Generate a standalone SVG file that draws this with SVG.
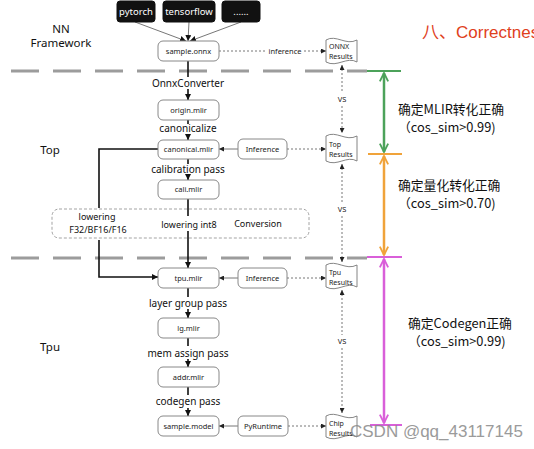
<svg xmlns="http://www.w3.org/2000/svg" width="534" height="449" viewBox="0 0 534 449">
<defs>
<style>
.node rect{fill:#fff;stroke:#888;stroke-width:1}
.node text{font-family:"Noto Sans","Open Sans",sans-serif;font-size:7.5px;fill:#222;text-anchor:middle}
.src rect{fill:#111;stroke:#111}
.src text{font-family:"Noto Sans","Open Sans",sans-serif;font-size:9.5px;fill:#fff;text-anchor:middle}
.res path{fill:#fff;stroke:#777;stroke-width:0.9}
.res text{font-family:"Noto Sans","Open Sans",sans-serif;font-size:7px;fill:#222}
.lbl{font-family:"Noto Sans","Open Sans",sans-serif;font-size:10px;fill:#111;text-anchor:middle}
.sm{font-family:"Noto Sans","Open Sans",sans-serif;font-size:7.5px;fill:#222;text-anchor:middle}
.sec{font-family:"Noto Sans","Open Sans",sans-serif;font-size:11.5px;fill:#111;text-anchor:middle}
.main{stroke:#111;stroke-width:1.6;fill:none}
.gray{stroke:#777;stroke-width:1;fill:none}
.dot{stroke:#777;stroke-width:1;stroke-dasharray:2 2;fill:none}
.sep{stroke:#9c9c9c;stroke-width:3;stroke-dasharray:28 14;fill:none}
.cn{font-family:"Noto Sans CJK SC","Noto Sans",sans-serif;font-size:12.8px;fill:#111}
</style>
<marker id="ab" viewBox="0 0 10 10" refX="10" refY="5" markerWidth="6" markerHeight="6" markerUnits="userSpaceOnUse" orient="auto"><path d="M0,0 L10,5 L0,10 Z" fill="#111"/></marker>
<marker id="ag" viewBox="0 0 10 10" refX="10" refY="5" markerWidth="5" markerHeight="5" markerUnits="userSpaceOnUse" orient="auto-start-reverse"><path d="M0,0 L10,5 L0,10 Z" fill="#222"/></marker>
<marker id="agr" viewBox="0 0 12 12" refX="11" refY="6" markerWidth="10" markerHeight="10" markerUnits="userSpaceOnUse" orient="auto-start-reverse"><path d="M1,1 L11,6 L1,11" fill="none" stroke="#4ca25a" stroke-width="2.2"/></marker>
<marker id="aor" viewBox="0 0 12 12" refX="11" refY="6" markerWidth="10" markerHeight="10" markerUnits="userSpaceOnUse" orient="auto-start-reverse"><path d="M1,1 L11,6 L1,11" fill="none" stroke="#f0a33a" stroke-width="2.2"/></marker>
<marker id="api" viewBox="0 0 12 12" refX="11" refY="6" markerWidth="10" markerHeight="10" markerUnits="userSpaceOnUse" orient="auto-start-reverse"><path d="M1,1 L11,6 L1,11" fill="none" stroke="#d95fd9" stroke-width="2.2"/></marker>
</defs>
<rect width="534" height="449" fill="#fff"/>

<!-- separators -->
<line class="sep" x1="11" y1="71" x2="367" y2="71"/>
<line class="sep" x1="11" y1="258" x2="367" y2="258"/>

<!-- section labels -->
<text class="sec" x="61" y="33">NN</text>
<text class="sec" x="61" y="47">Framework</text>
<text class="sec" x="50" y="154">Top</text>
<text class="sec" x="50" y="351">Tpu</text>

<!-- conversion box -->
<rect x="52" y="209" width="257" height="29" rx="7" fill="none" stroke="#999" stroke-width="0.9" stroke-dasharray="3 2"/>

<g id="connectors">
<line class="gray" x1="135" y1="22" x2="186" y2="41" marker-end="url(#ab)"/>
<line class="gray" x1="189" y1="22" x2="188" y2="41" marker-end="url(#ab)"/>
<line class="gray" x1="241" y1="22" x2="190" y2="41" marker-end="url(#ab)"/>

<line class="main" x1="188" y1="61" x2="188" y2="77"/>
<line class="main" x1="188" y1="89" x2="188" y2="100" marker-end="url(#ab)"/>
<text class="lbl" x="188" y="87">OnnxConverter</text>

<line class="main" x1="188" y1="120" x2="188" y2="124"/>
<line class="main" x1="188" y1="134" x2="188" y2="140" marker-end="url(#ab)"/>
<text class="lbl" x="188" y="132">canonicalize</text>

<line class="main" x1="188" y1="159" x2="188" y2="164"/>
<line class="main" x1="188" y1="175" x2="188" y2="180" marker-end="url(#ab)"/>
<text class="lbl" x="188" y="173">calibration pass</text>

<line class="main" x1="188" y1="199" x2="188" y2="216"/>
<line class="main" x1="188" y1="231" x2="188" y2="268" marker-end="url(#ab)"/>
<text class="lbl" x="189" y="228" style="font-size:9px">lowering int8</text>

<polyline class="main" points="158,149 99,149 99,208"/>
<polyline class="main" points="99,240 99,277 158,277" marker-end="url(#ab)"/>
<text class="lbl" x="97" y="220" style="font-size:9px">lowering</text>
<text class="lbl" x="98" y="233" style="font-size:9px">F32/BF16/F16</text>
<text class="lbl" x="258" y="227" style="font-size:9px">Conversion</text>

<line class="main" x1="188" y1="288" x2="188" y2="297"/>
<line class="main" x1="188" y1="309" x2="188" y2="318" marker-end="url(#ab)"/>
<text class="lbl" x="188" y="307">layer group pass</text>

<line class="main" x1="188" y1="338" x2="188" y2="346"/>
<line class="main" x1="188" y1="359" x2="188" y2="367" marker-end="url(#ab)"/>
<text class="lbl" x="188" y="357">mem  assign pass</text>

<line class="main" x1="188" y1="387" x2="188" y2="395"/>
<line class="main" x1="188" y1="408" x2="188" y2="416" marker-end="url(#ab)"/>
<text class="lbl" x="188" y="405">codegen pass</text>

<!-- inference links -->
<line class="dot" x1="219" y1="51" x2="266" y2="51"/>
<line class="dot" x1="304" y1="51" x2="326" y2="51" marker-end="url(#ag)"/>
<text class="sm" x="285" y="54">inference</text>

<line class="gray" x1="238" y1="149" x2="219" y2="149" marker-end="url(#ag)"/>
<line class="dot" x1="287" y1="149" x2="326" y2="149" marker-end="url(#ag)"/>
<line class="gray" x1="238" y1="278" x2="219" y2="278" marker-end="url(#ag)"/>
<line class="dot" x1="287" y1="278" x2="326" y2="278" marker-end="url(#ag)"/>
<line class="gray" x1="238" y1="426" x2="219" y2="426" marker-end="url(#ag)"/>
<line class="dot" x1="288" y1="426" x2="326" y2="426" marker-end="url(#ag)"/>

<!-- vs -->
<line class="dot" x1="342" y1="65" x2="342" y2="92" marker-start="url(#ag)"/>
<line class="dot" x1="342" y1="106" x2="342" y2="133" marker-end="url(#ag)"/>
<text class="sm" x="342" y="102">VS</text>
<line class="dot" x1="342" y1="164" x2="342" y2="203" marker-start="url(#ag)"/>
<line class="dot" x1="342" y1="216" x2="342" y2="262" marker-end="url(#ag)"/>
<text class="sm" x="342" y="212">VS</text>
<line class="dot" x1="342" y1="290" x2="342" y2="335" marker-start="url(#ag)"/>
<line class="dot" x1="342" y1="348" x2="342" y2="413" marker-end="url(#ag)"/>
<text class="sm" x="342" y="344">VS</text>

<!-- colored ranges -->
<line x1="367" y1="71" x2="401" y2="71" stroke="#4ca25a" stroke-width="2"/>
<line x1="384" y1="73" x2="384" y2="152" stroke="#4ca25a" stroke-width="2.5" marker-start="url(#agr)" marker-end="url(#agr)"/>
<line x1="368" y1="154" x2="402" y2="154" stroke="#f0a33a" stroke-width="2"/>
<line x1="384" y1="156" x2="384" y2="255" stroke="#f0a33a" stroke-width="2.5" marker-start="url(#aor)" marker-end="url(#aor)"/>
<line x1="367" y1="257" x2="402" y2="257" stroke="#d95fd9" stroke-width="2"/>
<line x1="384" y1="259" x2="384" y2="423" stroke="#d95fd9" stroke-width="2.5" marker-start="url(#api)" marker-end="url(#api)"/>
<line x1="370" y1="425" x2="402" y2="425" stroke="#d95fd9" stroke-width="2"/>
</g>

<!-- source frameworks -->
<g id="pytorch" class="src"><rect x="117" y="1" width="38" height="21" rx="3"/><text x="136" y="15">pytorch</text></g>
<g id="tensorflow" class="src"><rect x="163" y="1" width="52" height="21" rx="3"/><text x="189" y="15">tensorflow</text></g>
<g id="others" class="src"><rect x="222" y="1" width="38" height="21" rx="3"/><text x="241" y="15">......</text></g>

<!-- main nodes -->
<g id="sample_onnx" class="node"><rect x="158" y="41" width="61" height="20" rx="5"/><text x="188.5" y="54">sample.onnx</text></g>
<g id="origin_mlir" class="node"><rect x="158" y="100" width="61" height="20" rx="5"/><text x="188.5" y="113">origin.mlir</text></g>
<g id="canonical_mlir" class="node"><rect x="158" y="140" width="61" height="19" rx="5"/><text x="188.5" y="152">canonical.mlir</text></g>
<g id="cali_mlir" class="node"><rect x="158" y="180" width="61" height="19" rx="5"/><text x="188.5" y="192">cali.mlir</text></g>
<g id="tpu_mlir" class="node"><rect x="158" y="268" width="61" height="20" rx="5"/><text x="188.5" y="281">tpu.mlir</text></g>
<g id="lg_mlir" class="node"><rect x="158" y="318" width="61" height="20" rx="5"/><text x="188.5" y="331">lg.mlir</text></g>
<g id="addr_mlir" class="node"><rect x="158" y="367" width="61" height="20" rx="5"/><text x="188.5" y="380">addr.mlir</text></g>
<g id="sample_model" class="node"><rect x="158" y="416" width="61" height="20" rx="5"/><text x="188.5" y="429">sample.model</text></g>

<g id="inference_top" class="node"><rect x="238" y="139" width="49" height="20" rx="5"/><text x="262.5" y="152">Inference</text></g>
<g id="inference_tpu" class="node"><rect x="238" y="268" width="49" height="20" rx="5"/><text x="262.5" y="281">Inference</text></g>
<g id="pyruntime" class="node"><rect x="238" y="416" width="50" height="20" rx="5"/><text x="263" y="429">PyRuntime</text></g>

<!-- results -->
<g id="onnx_results" class="res"><path d="M326,40 C336,34 346,46 357,40 L357,62 C347,56 337,68 326,62 Z"/><text x="329" y="49">ONNX</text><text x="329" y="59">Results</text></g>
<g id="top_results" class="res"><path d="M326,136 C336,130 346,142 357,136 L357,161 C347,155 337,167 326,161 Z"/><text x="329" y="147">Top</text><text x="329" y="157">Results</text></g>
<g id="tpu_results" class="res"><path d="M326,265 C336,259 346,271 357,265 L357,287 C347,281 337,293 326,287 Z"/><text x="329" y="275">Tpu</text><text x="329" y="285">Results</text></g>
<g id="chip_results" class="res"><path d="M326,416 C336,410 346,422 357,416 L357,437 C347,431 337,443 326,437 Z"/><text x="329" y="426">Chip</text><text x="329" y="436">Results</text></g>

<!-- right annotations -->
<text x="422" y="38" style="font-family:'Liberation Sans','Noto Sans CJK SC',sans-serif;font-size:17px;fill:#e0401c">八、Correctness</text>
<text class="cn" x="398" y="114">确定MLIR转化正确</text>
<text class="cn" x="398" y="132">（cos_sim&gt;0.99)</text>
<text class="cn" x="398" y="190">确定量化转化正确</text>
<text class="cn" x="398" y="208">（cos_sim&gt;0.70)</text>
<text class="cn" x="408" y="328">确定Codegen正确</text>
<text class="cn" x="408" y="346">（cos_sim&gt;0.99)</text>

<text x="350" y="437" style="font-family:'Liberation Sans',sans-serif;font-size:17px;fill:#8a8a8a;opacity:0.85">CSDN @qq_43117145</text>
</svg>
